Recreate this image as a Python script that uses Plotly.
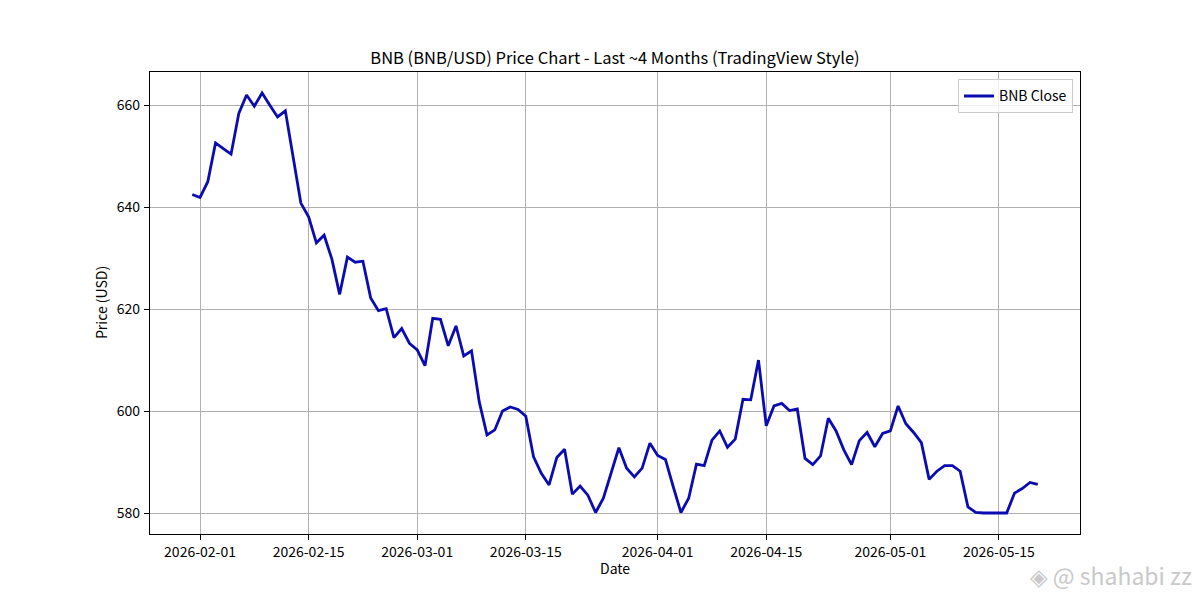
import pandas as pd
import plotly.graph_objects as go

# ---- data ----
start_date = "2026-01-31"
close = [
    642.5, 641.9, 645.0, 652.6, 651.5, 650.4, 658.4, 662.0, 659.8, 662.4,
    660.0, 657.7, 658.9, 649.6, 640.8, 638.1, 633.0, 634.5, 629.8, 622.9,
    630.2, 629.2, 629.4, 622.2, 619.7, 620.1, 614.4, 616.2, 613.3, 612.0,
    608.9, 618.2, 618.0, 612.8, 616.7, 610.8, 611.8, 601.8, 595.3, 596.3,
    600.0, 600.8, 600.3, 599.0, 591.0, 587.8, 585.5, 590.9, 592.5, 583.7,
    585.3, 583.5, 580.1, 582.9, 587.8, 592.8, 588.8, 587.1, 588.8, 593.7,
    591.3, 590.5, 585.2, 580.1, 582.9, 589.6, 589.3, 594.3, 596.1, 592.9,
    594.5, 602.3, 602.2, 610.0, 597.1, 601.0, 601.5, 600.1, 600.4, 590.7,
    589.5, 591.2, 598.6, 596.1, 592.4, 589.5, 594.2, 595.8, 593.0, 595.6,
    596.1, 601.0, 597.5, 595.8, 593.8, 586.6, 588.2, 589.3, 589.3, 588.2,
    581.2, 580.1, 580.0, 580.0, 580.0, 580.0, 583.9, 584.8, 586.0, 585.6,
]
dates = pd.date_range(start_date, periods=len(close), freq="D")
x_tick_vals = ["2026-02-01", "2026-02-15", "2026-03-01", "2026-03-15",
               "2026-04-01", "2026-04-15", "2026-05-01", "2026-05-15"]
y_tick_vals = [580, 600, 620, 640, 660]

FONT = "Noto Sans CJK SC, Noto Sans, DejaVu Sans, sans-serif"
LINE_COLOR = "#0b0bb2"

# matplotlib-like 5% margins
pad = pd.Timedelta(days=(dates[-1] - dates[0]).days * 0.05)
x_range = [dates[0] - pad, dates[-1] + pad]
ymin, ymax = min(close), max(close)
ypad = (ymax - ymin) * 0.05
y_range = [ymin - ypad, ymax + ypad]

fig = go.Figure()
fig.add_trace(go.Scatter(
    x=dates, y=close, mode="lines", name="BNB Close",
    line=dict(color=LINE_COLOR, width=2.8),
))

axis_common = dict(
    showline=True, linecolor="black", linewidth=1.1, mirror=True,
    showgrid=True, gridcolor="#b0b0b0", gridwidth=1.1,
    ticks="outside", ticklen=5, tickwidth=1.1, tickcolor="black",
    tickfont=dict(family=FONT, size=14, color="black"),
    zeroline=False,
)

# page body has an 8px offset; plot area placed at 150..1080 x 72..534 on screen
fig.update_layout(
    width=1200, height=600,
    paper_bgcolor="white", plot_bgcolor="white",
    margin=dict(l=142, r=128, t=64, b=74),
    font=dict(family=FONT, size=14, color="black"),
    title=dict(
        text="BNB (BNB/USD) Price Chart - Last ~4 Months (TradingView Style)",
        x=0.5, xref="paper", xanchor="center",
        y=1 - 50 / 600, yref="container", yanchor="middle",
        font=dict(family=FONT, size=16.5, color="black"),
    ),
    xaxis=dict(
        range=x_range, tickmode="array", tickvals=x_tick_vals,
        tickformat="%Y-%m-%d", ticklabelstandoff=0, **axis_common,
    ),
    yaxis=dict(
        range=y_range, tickmode="array", tickvals=y_tick_vals,
        ticklabelstandoff=1, **axis_common,
    ),
    showlegend=True,
    legend=dict(
        x=0.9925, y=0.984, xanchor="right", yanchor="top",
        bgcolor="rgba(255,255,255,0.8)", bordercolor="#cccccc", borderwidth=1,
        font=dict(family=FONT, size=14, color="black"),
        itemwidth=30,
    ),
    annotations=[
        dict(text="Date", xref="paper", yref="paper", x=0.5, y=0,
             xanchor="center", yanchor="middle", yshift=-34, showarrow=False,
             font=dict(family=FONT, size=14, color="black")),
        dict(text="Price (USD)", xref="paper", yref="paper", x=0, y=0.5,
             xanchor="center", yanchor="middle", xshift=-49, textangle=-90,
             showarrow=False, font=dict(family=FONT, size=14, color="black")),
        dict(text="◈ @ shahabi zz", xref="paper", yref="paper", x=1, y=0,
             xanchor="right", yanchor="middle", xshift=114, yshift=-41,
             showarrow=False, font=dict(family=FONT, size=23, color="#c9c9c9")),
    ],
)

fig.write_html("out.html")
